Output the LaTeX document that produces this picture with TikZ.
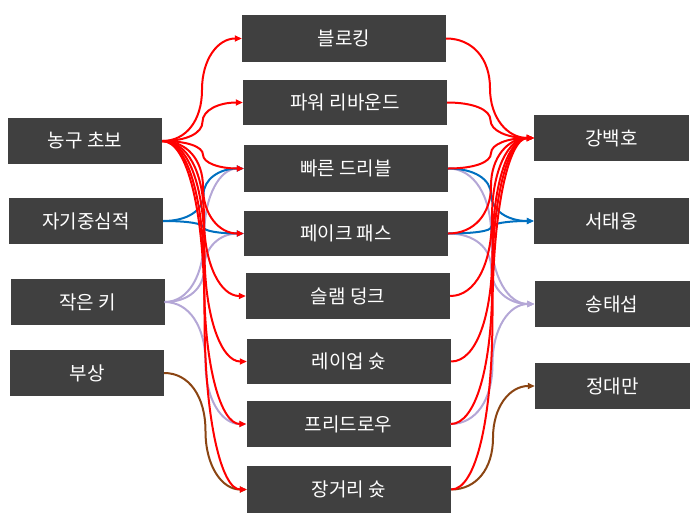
\documentclass[tikz,border=0pt]{standalone}
\usepackage{fontspec}
\setmainfont{Noto Sans CJK KR}
\usetikzlibrary{calc,arrows.meta}
\definecolor{boxgray}{HTML}{404040}
\definecolor{cred}{HTML}{FF0000}
\definecolor{cblue}{HTML}{0070C0}
\definecolor{clav}{HTML}{B4A7D6}
\definecolor{cbrown}{HTML}{8B4513}
\newcommand\cc{0.6}
\newcommand\curv[3]{%
  \coordinate (M) at ($(#2.east)!0.5!(#3.west)$);
  \draw[link,#1] (#2.east) .. controls ($(#2.east)!\cc!(#2.east-|M)$) and ($(M)!\cc!(M|-#2.east)$) .. (M)
     .. controls ($(M)!\cc!(M|-#3.west)$) and ($(#3.west)!\cc!(#3.west-|M)$) .. (#3.west);
}
\begin{document}
\begin{tikzpicture}[x=1pt,y=-1pt,
  box/.style={fill=boxgray,text=white,inner sep=0pt,font=\fontsize{19}{22}\selectfont,minimum height=46pt},
  lbox/.style={box,minimum width=154pt},
  mbox/.style={box,minimum width=204pt},
  rbox/.style={box,minimum width=155pt},
  link/.style={line width=2pt,-{Triangle[length=7pt,width=6pt]}}
]
\useasboundingbox (0,0) rectangle (699,520);
% left
\node[lbox] (L1) at (85,141) {농구 초보};
\node[lbox] (L2) at (86,221) {자기중심적};
\node[lbox] (L3) at (87.5,302) {작은 키};
\node[lbox] (L4) at (87,373) {부상};
% middle
\node[mbox,minimum height=47pt] (M1) at (344,38.5) {블로킹};
\node[mbox,minimum height=45pt] (M2) at (345,102.5) {파워 리바운드};
\node[mbox,minimum height=47pt] (M3) at (346,168.5) {빠른 드리블};
\node[mbox,minimum height=45pt] (M4) at (346,233.5) {페이크 패스};
\node[mbox] (M5) at (348,296) {슬램 덩크};
\node[mbox,minimum height=45pt] (M6) at (349,361.5) {레이업 슛};
\node[mbox] (M7) at (348.5,424) {프리드로우};
\node[mbox,minimum height=47pt] (M8) at (349,489.5) {장거리 슛};
% right
\node[rbox] (R1) at (611.5,138) {강백호};
\node[rbox] (R2) at (611.5,221) {서태웅};
\node[rbox] (R3) at (612,304) {송태섭};
\node[rbox] (R4) at (612.5,386) {정대만};
% lavender
\curv{clav}{L3}{M3}
\curv{clav}{L3}{M4}
\curv{clav}{L3}{M7}
\curv{clav}{M3}{R3}
\curv{clav}{M4}{R3}
\curv{clav}{M7}{R3}
% blue
\curv{cblue}{L2}{M3}
\curv{cblue}{L2}{M4}
\curv{cblue}{M3}{R2}
\curv{cblue}{M4}{R2}
% brown
\curv{cbrown}{L4}{M8}
\curv{cbrown}{M8}{R4}
% red
\foreach \m in {M1,M2,M3,M4,M5,M6,M7,M8}{
  \curv{cred}{L1}{\m}
  \curv{cred}{\m}{R1}
}
\end{tikzpicture}
\end{document}
